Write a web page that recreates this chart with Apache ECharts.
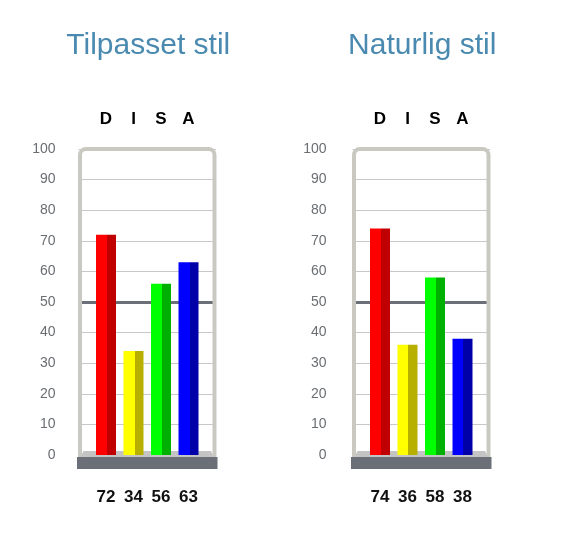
<!DOCTYPE html>
<html>
<head>
<meta charset="utf-8">
<script src="https://cdn.jsdelivr.net/npm/echarts@6/dist/echarts.min.js"></script>
<style>
  html, body { margin: 0; padding: 0; background: #fff; }
  #chart { width: 564px; height: 536px; }
</style>
</head>
<body>
<div id="chart"></div>
<script>
// data
const titles = ["Tilpasset stil", "Naturlig stil"];
const categories = ["D", "I", "S", "A"];
const adaptedValues = [72, 34, 56, 63];
const naturalValues = [74, 36, 58, 38];
const yTicks = [0, 10, 20, 30, 40, 50, 60, 70, 80, 90, 100];

const lightColors = ["#ff0000", "#ffff00", "#00ff00", "#0000ff"];
const darkColors = ["#c00000", "#b8b000", "#00b000", "#0000a8"];

const FONT = "Arial, 'Liberation Sans', sans-serif";
const TOP = 149, BOTTOM = 455;
const panels = [
  { left: 78.5, width: 137.5, values: adaptedValues, labelMargin: 23 },
  { left: 352.5, width: 137.5, values: naturalValues, labelMargin: 26 }
];

const chart = echarts.init(document.getElementById("chart"));

const barColor = (i) => new echarts.graphic.LinearGradient(0, 0, 1, 0, [
  { offset: 0, color: lightColors[i] },
  { offset: 0.55, color: lightColors[i] },
  { offset: 0.55, color: darkColors[i] },
  { offset: 1, color: darkColors[i] }
]);

const grids = [], xAxes = [], yAxes = [], series = [], graphics = [], titleList = [];

panels.forEach((p, k) => {
  grids.push({ left: p.left, width: p.width, top: TOP, height: BOTTOM - TOP });

  const xBase = {
    gridIndex: k, type: "value", min: 0, max: 5, interval: 1,
    axisLine: { show: false }, axisTick: { show: false }, splitLine: { show: false }
  };
  xAxes.push(Object.assign({}, xBase, {
    position: "top",
    axisLabel: {
      margin: 21, color: "#000", fontSize: 17, fontWeight: "bold", fontFamily: FONT,
      formatter: (v) => categories[v - 1] || ""
    }
  }));
  xAxes.push(Object.assign({}, xBase, {
    position: "bottom",
    axisLabel: {
      margin: 34, color: "#111", fontSize: 17, fontWeight: "bold", fontFamily: FONT,
      formatter: (v) => (p.values[v - 1] !== undefined ? String(p.values[v - 1]) : "")
    }
  }));

  yAxes.push({
    gridIndex: k, type: "value", min: yTicks[0], max: yTicks[yTicks.length - 1], interval: 10,
    axisLine: { show: false }, axisTick: { show: false },
    axisLabel: { margin: p.labelMargin, color: "#6a6e72", fontSize: 14, fontFamily: FONT },
    splitLine: { lineStyle: { color: "#c8c8c8", width: 1 } }
  });

  series.push({
    type: "bar",
    xAxisIndex: k * 2,
    yAxisIndex: k,
    barWidth: 20,
    z: 5,
    data: p.values.map((v, i) => ({ value: [i + 1, v], itemStyle: { color: barColor(i) } })),
    markLine: {
      symbol: "none", silent: true, label: { show: false },
      lineStyle: { color: "#6b7078", width: 3, type: "solid" },
      data: [{ yAxis: 50 }]
    }
  });

  const l = p.left, r = p.left + p.width;
  // frame, floor and base plinth
  graphics.push({
    type: "polygon", z: 1,
    shape: { points: [[l + 2, BOTTOM + 2], [l + 5, BOTTOM - 4], [r - 5, BOTTOM - 4], [r - 2, BOTTOM + 2]] },
    style: { fill: "#c4c4c4" }
  });
  graphics.push({
    type: "rect", z: 10,
    shape: { x: l + 1.5, y: TOP, width: p.width - 3, height: BOTTOM - TOP + 10, r: 6 },
    style: { fill: null, stroke: "#c9c9c1", lineWidth: 4 }
  });
  graphics.push({
    type: "rect", z: 11,
    shape: { x: l - 1.5, y: BOTTOM + 2, width: p.width + 3, height: 12 },
    style: { fill: "#6b7078" }
  });

  titleList.push({
    text: titles[k],
    left: l + p.width / 2 - 4, top: 26, textAlign: "center",
    textStyle: { color: "#4a8ab0", fontSize: 30, fontWeight: "normal", fontFamily: FONT }
  });
});

chart.setOption({
  animation: false,
  title: titleList,
  grid: grids,
  xAxis: xAxes,
  yAxis: yAxes,
  series: series,
  graphic: graphics
});
</script>
</body>
</html>
